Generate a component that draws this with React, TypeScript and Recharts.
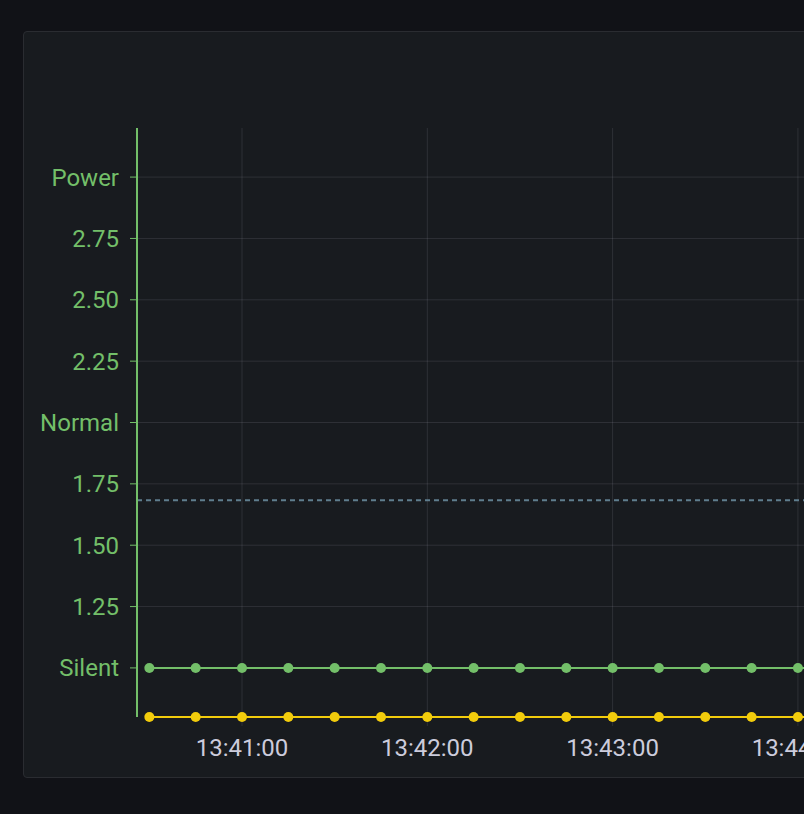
import React from 'react';
import { LineChart, Line, XAxis, YAxis, ReferenceLine } from 'recharts';

// sample times, one every 15s
const times = [
  '13:40:30', '13:40:45', '13:41:00', '13:41:15', '13:41:30', '13:41:45',
  '13:42:00', '13:42:15', '13:42:30', '13:42:45', '13:43:00', '13:43:15',
  '13:43:30', '13:43:45', '13:44:00', '13:44:15', '13:44:30', '13:44:45',
];
const modeValues = [1, 1, 1, 1, 1, 1, 1, 1, 1, 1, 1, 1, 1, 1, 1, 1, 1, 1];
const baseValues = [0.8, 0.8, 0.8, 0.8, 0.8, 0.8, 0.8, 0.8, 0.8, 0.8, 0.8, 0.8, 0.8, 0.8, 0.8, 0.8, 0.8, 0.8];
const xTickLabels = ['13:41:00', '13:42:00', '13:43:00', '13:44:00'];
const yTicks = [1, 1.25, 1.5, 1.75, 2, 2.25, 2.5, 2.75, 3];
const yNames: Record<number, string> = { 1: 'Silent', 2: 'Normal', 3: 'Power' };
const threshold = 1.683;

const toSec = (s: string) => {
  const [h, m, sec] = s.split(':').map(Number);
  return h * 3600 + m * 60 + sec;
};
const pad = (n: number) => String(n).padStart(2, '0');
const fmtTime = (v: number) =>
  `${pad(Math.floor(v / 3600))}:${pad(Math.floor((v % 3600) / 60))}:${pad(Math.round(v % 60))}`;

const data = times.map((t, i) => ({ t: toSec(t), mode: modeValues[i], base: baseValues[i] }));

const GREEN = '#73bf69';
const YELLOW = '#f2cc0c';
const GRID = 'rgba(204,204,220,0.12)';

export default function App() {
  return (
    <div style={{ position: 'fixed', left: 0, top: 0, width: 804, height: 814, overflow: 'hidden', background: '#111217', fontFamily: 'Roboto, sans-serif' }}>
      <div style={{ position: 'absolute', left: 23, top: 31, width: 860, height: 745, background: '#181b1f', border: '1px solid #2a2c31', borderRadius: 4 }} />
      <div style={{ position: 'absolute', left: 0, top: 0 }}>
        <LineChart width={940} height={800} data={data} margin={{ top: 128, right: 0, bottom: 23, left: 0 }}>
          {/* grid drawn as reference lines so there is no line at the plot's top edge */}
          {yTicks.filter((v) => v !== 1).map((v) => (
            <ReferenceLine key={`gy${v}`} y={v} stroke={GRID} strokeWidth={1} />
          ))}
          {xTickLabels.map((s) => (
            <ReferenceLine key={`gx${s}`} x={toSec(s)} stroke={GRID} strokeWidth={1} />
          ))}
          <XAxis
            dataKey="t"
            type="number"
            domain={[toSec('13:40:26'), toSec('13:44:46')]}
            ticks={xTickLabels.map(toSec)}
            tickFormatter={fmtTime}
            height={60}
            axisLine={false}
            tickLine={{ stroke: GRID }}
            tickSize={9}
            tickMargin={13}
            tick={{ fill: '#ccccdc', fontSize: 24 }}
          />
          <YAxis
            type="number"
            domain={[0.8, 3.2]}
            ticks={yTicks}
            tickFormatter={(v: number) => yNames[v] ?? v.toFixed(2)}
            width={137}
            axisLine={{ stroke: GREEN, strokeWidth: 2 }}
            tickLine={{ stroke: GREEN }}
            tickSize={7}
            tickMargin={11}
            tick={{ fill: GREEN, fontSize: 24 }}
          />
          <ReferenceLine y={threshold} stroke="#5f7e8e" strokeWidth={2} strokeDasharray="5 4" />
          <Line dataKey="mode" stroke={GREEN} strokeWidth={2} dot={{ r: 5, fill: GREEN, stroke: 'none' }} activeDot={false} isAnimationActive={false} />
          <Line dataKey="base" stroke={YELLOW} strokeWidth={2} dot={{ r: 5, fill: YELLOW, stroke: 'none' }} activeDot={false} isAnimationActive={false} />
        </LineChart>
      </div>
    </div>
  );
}
